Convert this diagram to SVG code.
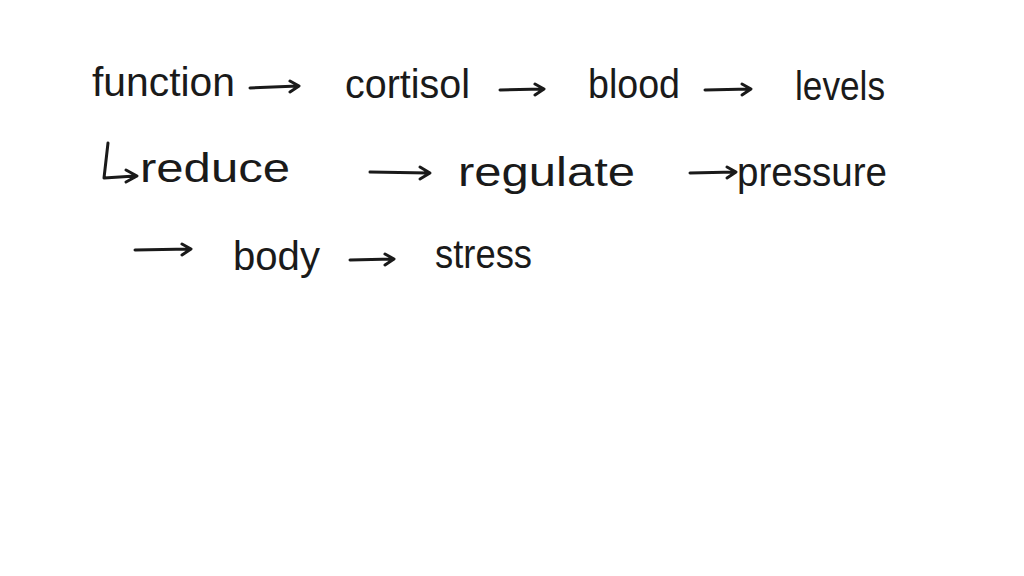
<svg xmlns="http://www.w3.org/2000/svg" width="1024" height="576" viewBox="0 0 1024 576">
<style>
text{font-family:"Liberation Sans","DejaVu Sans",sans-serif;font-size:40px;fill:#1a1a1a}
.c path{stroke:#1a1a1a;stroke-width:3;fill:none;stroke-linecap:round;stroke-linejoin:round}
</style>
<rect width="1024" height="576" fill="#fff"/>
<g id="function"><text x="92" y="96" textLength="143" lengthAdjust="spacingAndGlyphs">function</text></g>
<g id="cortisol"><text x="345" y="98" textLength="125" lengthAdjust="spacingAndGlyphs">cortisol</text></g>
<g id="blood"><text x="588" y="98" textLength="92" lengthAdjust="spacingAndGlyphs">blood</text></g>
<g id="levels"><text x="795" y="100" textLength="90" lengthAdjust="spacingAndGlyphs">levels</text></g>
<g id="reduce"><text x="140" y="182" textLength="150" lengthAdjust="spacingAndGlyphs">reduce</text></g>
<g id="regulate"><text x="458" y="186" textLength="177" lengthAdjust="spacingAndGlyphs">regulate</text></g>
<g id="pressure"><text x="737" y="186" textLength="150" lengthAdjust="spacingAndGlyphs">pressure</text></g>
<g id="body"><text x="233" y="270" textLength="87" lengthAdjust="spacingAndGlyphs">body</text></g>
<g id="stress"><text x="435" y="268" textLength="97" lengthAdjust="spacingAndGlyphs">stress</text></g>
<g id="connectors" class="c">
<path d="M250 88 L298 86 M290 81 L299 86 L290 92"/>
<path d="M500 90 L543 89 M535 84 L544 89 L535 95"/>
<path d="M705 90 L750 89 M742 84 L751 89 L742 95"/>
<path d="M108 143 L104 178 L135 176 M126 170 L137 176 L126 182"/>
<path d="M370 172 L428 173 M420 167 L430 173 L420 179"/>
<path d="M690 173 L735 172 M727 167 L736 172 L727 178"/>
<path d="M135 250 L190 249 M182 244 L191 249 L182 255"/>
<path d="M350 260 L393 259 M385 254 L394 259 L385 265"/>
</g>
</svg>
